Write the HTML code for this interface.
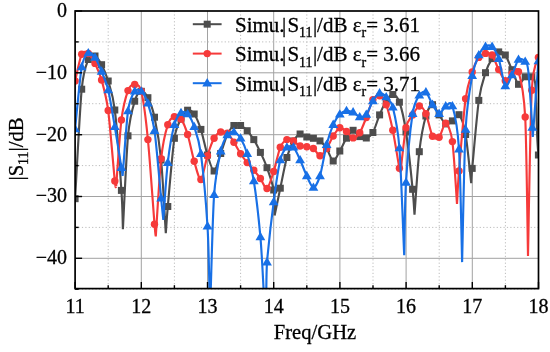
<!DOCTYPE html>
<html><head><meta charset="utf-8"><title>S11 plot</title>
<style>
html,body{margin:0;padding:0;background:#fff;}
body{width:550px;height:352px;overflow:hidden;}
svg{display:block;font-family:"Liberation Serif",serif;}
text{stroke:#000;stroke-width:0.3px;}
</style></head><body>
<svg width="550" height="352" viewBox="0 0 550 352">
<rect width="550" height="352" fill="#fff"/>
<defs><clipPath id="c"><rect x="75.1" y="11.0" width="463.4" height="277.6"/></clipPath></defs>
<line x1="141.3" y1="11.0" x2="141.3" y2="288.6" stroke="#a2a2a2" stroke-width="1"/><line x1="207.5" y1="11.0" x2="207.5" y2="288.6" stroke="#a2a2a2" stroke-width="1"/><line x1="273.7" y1="11.0" x2="273.7" y2="288.6" stroke="#a2a2a2" stroke-width="1"/><line x1="339.9" y1="11.0" x2="339.9" y2="288.6" stroke="#a2a2a2" stroke-width="1"/><line x1="406.1" y1="11.0" x2="406.1" y2="288.6" stroke="#a2a2a2" stroke-width="1"/><line x1="472.3" y1="11.0" x2="472.3" y2="288.6" stroke="#a2a2a2" stroke-width="1"/><line x1="108.2" y1="11.0" x2="108.2" y2="288.6" stroke="#bcbcbc" stroke-width="1" stroke-dasharray="1.2,2.2"/><line x1="174.4" y1="11.0" x2="174.4" y2="288.6" stroke="#bcbcbc" stroke-width="1" stroke-dasharray="1.2,2.2"/><line x1="240.6" y1="11.0" x2="240.6" y2="288.6" stroke="#bcbcbc" stroke-width="1" stroke-dasharray="1.2,2.2"/><line x1="306.8" y1="11.0" x2="306.8" y2="288.6" stroke="#bcbcbc" stroke-width="1" stroke-dasharray="1.2,2.2"/><line x1="373" y1="11.0" x2="373" y2="288.6" stroke="#bcbcbc" stroke-width="1" stroke-dasharray="1.2,2.2"/><line x1="439.2" y1="11.0" x2="439.2" y2="288.6" stroke="#bcbcbc" stroke-width="1" stroke-dasharray="1.2,2.2"/><line x1="505.4" y1="11.0" x2="505.4" y2="288.6" stroke="#bcbcbc" stroke-width="1" stroke-dasharray="1.2,2.2"/><line x1="75.1" y1="72.8" x2="538.5" y2="72.8" stroke="#a2a2a2" stroke-width="1"/><line x1="75.1" y1="134.7" x2="538.5" y2="134.7" stroke="#a2a2a2" stroke-width="1"/><line x1="75.1" y1="196.5" x2="538.5" y2="196.5" stroke="#a2a2a2" stroke-width="1"/><line x1="75.1" y1="258.3" x2="538.5" y2="258.3" stroke="#a2a2a2" stroke-width="1"/><line x1="75.1" y1="41.9" x2="538.5" y2="41.9" stroke="#bcbcbc" stroke-width="1" stroke-dasharray="1.2,2.2"/><line x1="75.1" y1="103.7" x2="538.5" y2="103.7" stroke="#bcbcbc" stroke-width="1" stroke-dasharray="1.2,2.2"/><line x1="75.1" y1="165.6" x2="538.5" y2="165.6" stroke="#bcbcbc" stroke-width="1" stroke-dasharray="1.2,2.2"/><line x1="75.1" y1="227.4" x2="538.5" y2="227.4" stroke="#bcbcbc" stroke-width="1" stroke-dasharray="1.2,2.2"/><line x1="75.1" y1="289.2" x2="538.5" y2="289.2" stroke="#bcbcbc" stroke-width="1" stroke-dasharray="1.2,2.2"/>
<g clip-path="url(#c)">
<path fill="none" stroke="#4d4d4d" stroke-width="2.15" stroke-linejoin="round" d="M75.1 198.7C76 183.4 79.9 108.7 81.7 89.2C83.6 69.7 86.5 64.1 88.3 59.5C90.2 54.9 93.1 55.3 95 56C96.8 56.7 99.7 61.2 101.6 64.7C103.4 68.2 106.3 74.7 108.2 81C110 87.3 113 94.7 114.8 110C116.7 125.3 120.3 173.7 121.4 190.4C122.6 207.1 122.7 223.9 122.9 229.3M122.9 229.3C123.6 216.2 126.4 153.7 128 135.8C129.7 117.9 132.8 107.4 134.7 101.2C136.5 95 139.4 91.8 141.3 91.3C143.1 90.8 146.1 94.1 147.9 97.7C149.8 101.3 152.7 108.5 154.5 117.2C156.4 125.9 159.6 143.8 161.1 160C162.7 176.2 165.1 222.9 165.8 233.1M165.8 233.1C166.1 229.4 166.6 219.8 167.8 206.5C169 193.2 172.5 150.6 174.4 138.3C176.2 126.1 179.1 122.9 181 119C182.9 115.1 185.8 110.9 187.6 110.2C189.5 109.5 192.4 111.3 194.2 114C196.1 116.7 199 123.7 200.9 129.4C202.7 135.1 205.6 149.2 207.5 155C209.3 160.8 212.2 171.2 214.1 171C215.9 170.8 218.9 158.6 220.7 153.5C222.6 148.4 225.5 138.4 227.3 134.5C229.2 130.6 232.1 126.8 233.9 125.5C235.8 124.2 238.7 124.8 240.6 125.5C242.4 126.2 245.3 128.7 247.2 130.7C249 132.7 251.9 136.6 253.8 139.6C255.7 142.6 258.6 148.5 260.4 152.4C262.3 156.3 265.2 162.4 267 167.7C268.9 173 272.6 183.3 273.7 190C274.6 196.7 274.5 211.9 274.6 215.5M274.6 215.5C275.4 211.7 278.6 196.3 280.3 188.2C282 180.1 285 164.1 286.9 157.5C288.7 150.9 291.7 144.3 293.5 141C295.4 137.7 298.3 134.6 300.1 134C302 133.4 304.9 136.4 306.8 137C308.6 137.6 311.5 137.8 313.4 138.3C315.2 138.8 318.1 139.5 320 140.9C321.8 142.3 324.8 145.7 326.6 148.5C328.5 151.3 331.4 160.7 333.2 161C335.1 161.3 338 154.2 339.8 151C341.7 147.8 344.6 141.1 346.5 138.2C348.3 135.3 351.2 130.5 353.1 130.3C354.9 130.1 357.8 135.5 359.7 136.6C361.6 137.7 364.5 138.6 366.3 138C368.2 137.4 371.1 135.7 372.9 132.5C374.8 129.3 377.7 119.3 379.6 114.9C381.4 110.5 384.3 103.9 386.2 101C388 98.1 390.9 94.3 392.8 94.5C394.6 94.7 397.6 97 399.4 102.2C401.3 107.5 404.2 119.8 406 132C407.9 144.2 411.5 177.7 412.6 189.3C413.8 200.9 414.2 211.1 414.5 214.6M414.5 214.6C415.2 205.8 417.7 165.5 419.3 151.7C420.9 137.9 424 122.6 425.9 116C427.7 109.4 430.7 104.9 432.5 104.7C434.4 104.5 437.3 112.2 439.1 114.9C441 117.6 443.9 123.1 445.7 123.9C447.6 124.7 450.5 122.2 452.4 120.9C454.2 119.6 457.1 112.8 459 114.7C460.8 116.6 463.9 124.9 465.6 134.5C467.3 144.1 470.4 176.4 471.2 183.2M471.2 183.2C471.3 181.1 471.2 180 472.2 168.4C473.3 156.8 477 113.8 478.8 100.4C480.7 87 483.6 78.6 485.5 72.7C487.3 66.8 490.2 61.5 492.1 58.6C493.9 55.7 496.8 52.4 498.7 51.9C500.5 51.4 503.5 52.5 505.3 55C507.2 57.5 510.1 65.6 511.9 69.7C513.8 73.8 516.7 83.3 518.5 84.3C520.4 85.3 523.3 77.8 525.2 76.8C527 75.8 530.4 75.9 531.8 76.8C533.2 77.7 534.6 78.6 535.2 83C535.8 87.4 536 100.4 536.3 108C536.6 115.6 536.9 130.4 537.2 137C537.5 143.6 538.2 152.5 538.4 155"/>
<rect x="71.6" y="195.2" width="7" height="7" fill="#4d4d4d"/><rect x="78.2" y="85.7" width="7" height="7" fill="#4d4d4d"/><rect x="84.8" y="56" width="7" height="7" fill="#4d4d4d"/><rect x="91.5" y="52.5" width="7" height="7" fill="#4d4d4d"/><rect x="98.1" y="61.2" width="7" height="7" fill="#4d4d4d"/><rect x="104.7" y="77.5" width="7" height="7" fill="#4d4d4d"/><rect x="111.3" y="106.5" width="7" height="7" fill="#4d4d4d"/><rect x="117.9" y="186.9" width="7" height="7" fill="#4d4d4d"/><rect x="124.5" y="132.3" width="7" height="7" fill="#4d4d4d"/><rect x="131.2" y="97.7" width="7" height="7" fill="#4d4d4d"/><rect x="137.8" y="87.8" width="7" height="7" fill="#4d4d4d"/><rect x="144.4" y="94.2" width="7" height="7" fill="#4d4d4d"/><rect x="151" y="113.7" width="7" height="7" fill="#4d4d4d"/><rect x="157.6" y="156.5" width="7" height="7" fill="#4d4d4d"/><rect x="164.3" y="203" width="7" height="7" fill="#4d4d4d"/><rect x="170.9" y="134.8" width="7" height="7" fill="#4d4d4d"/><rect x="177.5" y="115.5" width="7" height="7" fill="#4d4d4d"/><rect x="184.1" y="106.7" width="7" height="7" fill="#4d4d4d"/><rect x="190.7" y="110.5" width="7" height="7" fill="#4d4d4d"/><rect x="197.4" y="125.9" width="7" height="7" fill="#4d4d4d"/><rect x="204" y="151.5" width="7" height="7" fill="#4d4d4d"/><rect x="210.6" y="167.5" width="7" height="7" fill="#4d4d4d"/><rect x="217.2" y="150" width="7" height="7" fill="#4d4d4d"/><rect x="223.8" y="131" width="7" height="7" fill="#4d4d4d"/><rect x="230.4" y="122" width="7" height="7" fill="#4d4d4d"/><rect x="237.1" y="122" width="7" height="7" fill="#4d4d4d"/><rect x="243.7" y="127.2" width="7" height="7" fill="#4d4d4d"/><rect x="250.3" y="136.1" width="7" height="7" fill="#4d4d4d"/><rect x="256.9" y="148.9" width="7" height="7" fill="#4d4d4d"/><rect x="263.5" y="164.2" width="7" height="7" fill="#4d4d4d"/><rect x="270.2" y="186.5" width="7" height="7" fill="#4d4d4d"/><rect x="276.8" y="184.7" width="7" height="7" fill="#4d4d4d"/><rect x="283.4" y="154" width="7" height="7" fill="#4d4d4d"/><rect x="290" y="137.5" width="7" height="7" fill="#4d4d4d"/><rect x="296.6" y="130.5" width="7" height="7" fill="#4d4d4d"/><rect x="303.3" y="133.5" width="7" height="7" fill="#4d4d4d"/><rect x="309.9" y="134.8" width="7" height="7" fill="#4d4d4d"/><rect x="316.5" y="137.4" width="7" height="7" fill="#4d4d4d"/><rect x="323.1" y="145" width="7" height="7" fill="#4d4d4d"/><rect x="329.7" y="157.5" width="7" height="7" fill="#4d4d4d"/><rect x="336.3" y="147.5" width="7" height="7" fill="#4d4d4d"/><rect x="343" y="134.7" width="7" height="7" fill="#4d4d4d"/><rect x="349.6" y="126.8" width="7" height="7" fill="#4d4d4d"/><rect x="356.2" y="133.1" width="7" height="7" fill="#4d4d4d"/><rect x="362.8" y="134.5" width="7" height="7" fill="#4d4d4d"/><rect x="369.4" y="129" width="7" height="7" fill="#4d4d4d"/><rect x="376.1" y="111.4" width="7" height="7" fill="#4d4d4d"/><rect x="382.7" y="97.5" width="7" height="7" fill="#4d4d4d"/><rect x="389.3" y="91" width="7" height="7" fill="#4d4d4d"/><rect x="395.9" y="98.7" width="7" height="7" fill="#4d4d4d"/><rect x="402.5" y="128.5" width="7" height="7" fill="#4d4d4d"/><rect x="409.1" y="185.8" width="7" height="7" fill="#4d4d4d"/><rect x="415.8" y="148.2" width="7" height="7" fill="#4d4d4d"/><rect x="422.4" y="112.5" width="7" height="7" fill="#4d4d4d"/><rect x="429" y="101.2" width="7" height="7" fill="#4d4d4d"/><rect x="435.6" y="111.4" width="7" height="7" fill="#4d4d4d"/><rect x="442.2" y="120.4" width="7" height="7" fill="#4d4d4d"/><rect x="448.9" y="117.4" width="7" height="7" fill="#4d4d4d"/><rect x="455.5" y="111.2" width="7" height="7" fill="#4d4d4d"/><rect x="462.1" y="131" width="7" height="7" fill="#4d4d4d"/><rect x="468.7" y="164.9" width="7" height="7" fill="#4d4d4d"/><rect x="475.3" y="96.9" width="7" height="7" fill="#4d4d4d"/><rect x="482" y="69.2" width="7" height="7" fill="#4d4d4d"/><rect x="488.6" y="55.1" width="7" height="7" fill="#4d4d4d"/><rect x="495.2" y="48.4" width="7" height="7" fill="#4d4d4d"/><rect x="501.8" y="51.5" width="7" height="7" fill="#4d4d4d"/><rect x="508.4" y="66.2" width="7" height="7" fill="#4d4d4d"/><rect x="515" y="80.8" width="7" height="7" fill="#4d4d4d"/><rect x="521.7" y="73.3" width="7" height="7" fill="#4d4d4d"/><rect x="528.3" y="73.3" width="7" height="7" fill="#4d4d4d"/><rect x="534.9" y="151.5" width="7" height="7" fill="#4d4d4d"/><path fill="none" stroke="#F63A3A" stroke-width="2.15" stroke-linejoin="round" d="M75.1 81C76 77.2 79.9 58.1 81.7 54.2C83.6 50.4 86.5 52.2 88.3 53.5C90.2 54.8 93.1 59.7 95 63.4C96.8 67.1 99.7 73.4 101.6 80C103.4 86.6 106.3 96.4 108.2 110.5C110 124.6 113.7 170.4 114.8 181C115.9 191.6 116 185.3 116.2 186M116.2 186C116.9 176.8 119.8 133.4 121.4 120C123.1 106.6 126.2 95.6 128 90.6C129.9 85.6 132.8 84.3 134.7 84.4C136.5 84.5 139.4 83.6 141.3 91.3C143.1 99 146.1 121 147.9 139.6C149.8 158.2 153.4 210.6 154.5 224.2C155.6 237.8 155.6 234.7 155.8 236.4M155.8 236.4C156.5 225.5 159.5 174.4 161.1 158.8C162.8 143.2 165.9 130.7 167.8 124.8C169.6 118.9 172.5 117.4 174.4 116.6C176.2 115.8 179.1 116.5 181 119C182.9 121.5 185.8 128.6 187.6 134.5C189.5 140.4 192.4 155 194.2 161.3C196.1 167.6 199 180.3 200.9 179.5C202.7 178.7 205.6 161.5 207.5 155.7C209.3 149.9 212.2 141.6 214.1 138.3C215.9 135 218.9 132.7 220.7 132C222.6 131.3 225.5 131.8 227.3 133.2C229.2 134.6 232.1 139.3 233.9 142.2C235.8 145.1 238.7 150.8 240.6 153.7C242.4 156.6 245.3 160.3 247.2 162.6C249 164.9 251.9 168.1 253.8 170.3C255.7 172.5 258.6 176 260.4 178.5C262.3 181 265.2 189.5 267 188.5C268.9 187.5 271.8 177.3 273.7 171.5C275.5 165.7 278.4 151.8 280.3 147.3C282.1 142.8 285 140.5 286.9 139.6C288.7 138.7 291.7 140 293.5 140.9C295.4 141.8 298.3 145.2 300.1 146C302 146.8 304.9 146.5 306.8 146.8C308.6 147.2 311.5 147.3 313.4 148.5C315.2 149.7 318.1 155.7 320 155.7C321.8 155.7 324.8 151.3 326.6 148.5C328.5 145.7 331.4 138.9 333.2 136C335.1 133.1 338 128.3 339.8 127.7C341.7 127.1 344.6 130.1 346.5 131.5C348.3 132.9 351.2 137.7 353.1 137.9C354.9 138.1 357.8 135.7 359.7 132.8C361.6 129.9 364.5 122.1 366.3 117.5C368.2 112.9 371.1 102.6 372.9 99.6C374.8 96.6 377.7 95.1 379.6 95.8C381.4 96.5 384.3 99.9 386.2 104.7C388 109.5 390.9 121.4 392.8 130.3C394.6 139.2 398.3 162.5 399.4 168.3C400.5 174.1 400.3 171.5 400.5 172M400.5 172C401.3 165.8 404.3 135.7 406 127.7C407.7 119.7 410.8 118 412.6 115C414.5 112 417.4 106.2 419.3 106C421.1 105.8 424 109.5 425.9 113.7C427.7 117.9 430.7 132.9 432.5 136.2C434.4 139.5 437.3 139.1 439.1 137.3C441 135.5 443.9 122.7 445.7 123.3C447.6 123.9 450.8 130.3 452.4 141.6C453.9 152.9 456.4 195.3 457 204M457 204C457.3 199.4 457.8 185.6 459 170.9C460.2 156.2 463.7 112.6 465.6 98.8C467.5 85 470.4 77.8 472.2 72C474.1 66.2 477 60 478.8 57.4C480.7 54.8 483.6 53.7 485.5 53.4C487.3 53.1 490.2 52.7 492.1 55C493.9 57.3 496.8 66 498.7 69.6C500.5 73.2 503.5 80.2 505.3 80.8C507.2 81.4 510.1 75 511.9 73.7C513.8 72.4 516.7 65.6 518.5 71.7C520.4 77.8 523.8 91.2 525.2 117C526.5 142.8 527.6 236.5 528 255.9M528 255.9C528.5 232.7 530.3 118.1 531.8 90.3C533.2 62.5 537.5 62 538.4 57.4"/>
<circle cx="75.1" cy="81" r="3.7" fill="#F63A3A"/><circle cx="81.7" cy="54.2" r="3.7" fill="#F63A3A"/><circle cx="88.3" cy="53.5" r="3.7" fill="#F63A3A"/><circle cx="95" cy="63.4" r="3.7" fill="#F63A3A"/><circle cx="101.6" cy="80" r="3.7" fill="#F63A3A"/><circle cx="108.2" cy="110.5" r="3.7" fill="#F63A3A"/><circle cx="114.8" cy="181" r="3.7" fill="#F63A3A"/><circle cx="121.4" cy="120" r="3.7" fill="#F63A3A"/><circle cx="128" cy="90.6" r="3.7" fill="#F63A3A"/><circle cx="134.7" cy="84.4" r="3.7" fill="#F63A3A"/><circle cx="141.3" cy="91.3" r="3.7" fill="#F63A3A"/><circle cx="147.9" cy="139.6" r="3.7" fill="#F63A3A"/><circle cx="154.5" cy="224.2" r="3.7" fill="#F63A3A"/><circle cx="161.1" cy="158.8" r="3.7" fill="#F63A3A"/><circle cx="167.8" cy="124.8" r="3.7" fill="#F63A3A"/><circle cx="174.4" cy="116.6" r="3.7" fill="#F63A3A"/><circle cx="181" cy="119" r="3.7" fill="#F63A3A"/><circle cx="187.6" cy="134.5" r="3.7" fill="#F63A3A"/><circle cx="194.2" cy="161.3" r="3.7" fill="#F63A3A"/><circle cx="200.9" cy="179.5" r="3.7" fill="#F63A3A"/><circle cx="207.5" cy="155.7" r="3.7" fill="#F63A3A"/><circle cx="214.1" cy="138.3" r="3.7" fill="#F63A3A"/><circle cx="220.7" cy="132" r="3.7" fill="#F63A3A"/><circle cx="227.3" cy="133.2" r="3.7" fill="#F63A3A"/><circle cx="233.9" cy="142.2" r="3.7" fill="#F63A3A"/><circle cx="240.6" cy="153.7" r="3.7" fill="#F63A3A"/><circle cx="247.2" cy="162.6" r="3.7" fill="#F63A3A"/><circle cx="253.8" cy="170.3" r="3.7" fill="#F63A3A"/><circle cx="260.4" cy="178.5" r="3.7" fill="#F63A3A"/><circle cx="267" cy="188.5" r="3.7" fill="#F63A3A"/><circle cx="273.7" cy="171.5" r="3.7" fill="#F63A3A"/><circle cx="280.3" cy="147.3" r="3.7" fill="#F63A3A"/><circle cx="286.9" cy="139.6" r="3.7" fill="#F63A3A"/><circle cx="293.5" cy="140.9" r="3.7" fill="#F63A3A"/><circle cx="300.1" cy="146" r="3.7" fill="#F63A3A"/><circle cx="306.8" cy="146.8" r="3.7" fill="#F63A3A"/><circle cx="313.4" cy="148.5" r="3.7" fill="#F63A3A"/><circle cx="320" cy="155.7" r="3.7" fill="#F63A3A"/><circle cx="326.6" cy="148.5" r="3.7" fill="#F63A3A"/><circle cx="333.2" cy="136" r="3.7" fill="#F63A3A"/><circle cx="339.8" cy="127.7" r="3.7" fill="#F63A3A"/><circle cx="346.5" cy="131.5" r="3.7" fill="#F63A3A"/><circle cx="353.1" cy="137.9" r="3.7" fill="#F63A3A"/><circle cx="359.7" cy="132.8" r="3.7" fill="#F63A3A"/><circle cx="366.3" cy="117.5" r="3.7" fill="#F63A3A"/><circle cx="372.9" cy="99.6" r="3.7" fill="#F63A3A"/><circle cx="379.6" cy="95.8" r="3.7" fill="#F63A3A"/><circle cx="386.2" cy="104.7" r="3.7" fill="#F63A3A"/><circle cx="392.8" cy="130.3" r="3.7" fill="#F63A3A"/><circle cx="399.4" cy="168.3" r="3.7" fill="#F63A3A"/><circle cx="406" cy="127.7" r="3.7" fill="#F63A3A"/><circle cx="412.6" cy="115" r="3.7" fill="#F63A3A"/><circle cx="419.3" cy="106" r="3.7" fill="#F63A3A"/><circle cx="425.9" cy="113.7" r="3.7" fill="#F63A3A"/><circle cx="432.5" cy="136.2" r="3.7" fill="#F63A3A"/><circle cx="439.1" cy="137.3" r="3.7" fill="#F63A3A"/><circle cx="445.7" cy="123.3" r="3.7" fill="#F63A3A"/><circle cx="452.4" cy="141.6" r="3.7" fill="#F63A3A"/><circle cx="459" cy="170.9" r="3.7" fill="#F63A3A"/><circle cx="465.6" cy="98.8" r="3.7" fill="#F63A3A"/><circle cx="472.2" cy="72" r="3.7" fill="#F63A3A"/><circle cx="478.8" cy="57.4" r="3.7" fill="#F63A3A"/><circle cx="485.5" cy="53.4" r="3.7" fill="#F63A3A"/><circle cx="492.1" cy="55" r="3.7" fill="#F63A3A"/><circle cx="498.7" cy="69.6" r="3.7" fill="#F63A3A"/><circle cx="505.3" cy="80.8" r="3.7" fill="#F63A3A"/><circle cx="511.9" cy="73.7" r="3.7" fill="#F63A3A"/><circle cx="518.5" cy="71.7" r="3.7" fill="#F63A3A"/><circle cx="525.2" cy="117" r="3.7" fill="#F63A3A"/><circle cx="531.8" cy="90.3" r="3.7" fill="#F63A3A"/><circle cx="538.4" cy="57.4" r="3.7" fill="#F63A3A"/><path fill="none" stroke="#1870E6" stroke-width="2.15" stroke-linejoin="round" d="M75.1 129C76 120.3 79.9 77.6 81.7 67C83.6 56.4 86.5 54.3 88.3 53C90.2 51.7 93.1 54.9 95 57.5C96.8 60.1 99.7 66.9 101.6 71.4C103.4 76 106.3 82.2 108.2 90C110 97.8 113 115.9 114.8 126.8C116.7 137.7 120.3 160.8 121.4 167.7C122.5 174.6 122.4 174.8 122.6 176M122.6 176C123.4 166.9 126.4 122.9 128 111C129.7 99.1 132.8 94.1 134.7 91.3C136.5 88.5 139.4 89.6 141.3 91.3C143.1 93 146.1 97.8 147.9 103.3C149.8 108.8 152.7 117.4 154.5 130.7C156.4 144 159.9 185.6 161.1 198.1C162.4 210.6 163 216.8 163.3 219.8M163.3 219.8C163.9 211.8 166.2 175.9 167.8 162.6C169.3 149.3 172.5 131.8 174.4 124.8C176.2 117.8 179.1 114.3 181 112.8C182.9 111.3 185.8 112 187.6 114C189.5 116 192.4 121.3 194.2 126.8C196.1 132.3 199 139.7 200.9 153.6C202.7 167.5 206.3 207 207.5 226.2C208.7 245.4 209.2 281.9 209.5 291M209.5 291C209.7 291 210.5 291 210.7 291M210.7 291C211.2 277.5 212.7 214.4 214.1 194.8C215.5 175.2 218.9 159.5 220.7 151.1C222.6 142.7 225.5 137.7 227.3 135C229.2 132.3 232.1 131.5 233.9 132C235.8 132.5 238.7 135.3 240.6 138.3C242.4 141.3 245.3 147.7 247.2 153.7C249 159.7 251.9 169.4 253.8 181C255.7 192.6 259 221.5 260.4 236.9C261.8 252.3 263.2 283.4 263.7 291M263.7 291C264.1 291 265.9 291 266.3 291M266.3 291C266.4 287 266.3 274.7 267 262.2C268.1 249.7 271.8 216.2 273.7 201.9C275.5 187.6 278.4 167.6 280.3 160C282.1 152.4 285 149.1 286.9 147.3C288.7 145.5 291.7 145.5 293.5 147.3C295.4 149.1 298.3 156 300.1 160C302 164 304.9 172.1 306.8 175.9C308.6 179.8 311.5 187.5 313.4 187.5C315.2 187.5 318.1 181.9 320 175.9C321.8 169.9 324.8 151.9 326.6 144.7C328.5 137.5 331.4 129 333.2 124.7C335.1 120.4 338 116.2 339.8 114.3C341.7 112.4 344.6 111.1 346.5 110.8C348.3 110.5 351.2 111.3 353.1 112.2C354.9 113.1 357.8 116.7 359.7 117C361.6 117.3 364.5 116.8 366.3 114.5C368.2 112.2 371.1 103.9 372.9 100.9C374.8 97.9 377.7 93.7 379.6 93.2C381.4 92.7 384.3 95 386.2 97C388 99 390.9 100.2 392.8 107.3C394.6 114.4 397.8 127.3 399.4 148C401 168.7 403.5 240.3 404.2 255.3M404.2 255.3C404.5 245.1 404.8 202.2 406 182.4C407.2 162.6 410.8 125.9 412.6 113.7C414.5 101.5 417.4 98.3 419.3 95.3C421.1 92.3 424 90.9 425.9 92.2C427.7 93.5 430.7 101.5 432.5 104.5C434.4 107.5 437.3 113.5 439.1 113.7C441 113.9 443.9 107.3 445.7 106.2C447.6 105.1 450.5 100 452.4 106C454.2 112 457.6 127.3 459 149.2C460.3 171.1 461.7 246.3 462.1 262.1M462.1 262.1C462.6 243.5 464.2 155.6 465.6 129.5C467 103.4 470.4 86.1 472.2 75.7C474.1 65.3 477 59.1 478.8 55C480.7 50.9 483.6 47.9 485.5 46.7C487.3 45.5 490.2 45 492.1 46.7C493.9 48.4 496.8 53.1 498.7 58.6C500.5 64.1 503.5 83.7 505.3 86C507.2 88.3 510.1 78.7 511.9 75C513.8 71.3 516.7 61.4 518.5 59.5C520.4 57.6 523.8 59.9 525.2 61.5C526.5 63.1 527.3 61.8 528.3 71C529.3 80.2 531.7 118.3 532.3 127.5C532.8 136.7 532.7 135.7 532.8 137M532.8 137C533.6 126.4 537.6 71.6 538.4 61"/>
<path d="M75.1 123.9L80 132.3L70.2 132.3Z" fill="#1870E6"/><path d="M81.7 61.9L86.6 70.3L76.8 70.3Z" fill="#1870E6"/><path d="M88.3 47.9L93.2 56.3L83.4 56.3Z" fill="#1870E6"/><path d="M95 52.4L99.9 60.8L90.1 60.8Z" fill="#1870E6"/><path d="M101.6 66.3L106.5 74.7L96.7 74.7Z" fill="#1870E6"/><path d="M108.2 84.9L113.1 93.3L103.3 93.3Z" fill="#1870E6"/><path d="M114.8 121.7L119.7 130.1L109.9 130.1Z" fill="#1870E6"/><path d="M121.4 162.6L126.3 171L116.5 171Z" fill="#1870E6"/><path d="M128 105.9L132.9 114.3L123.1 114.3Z" fill="#1870E6"/><path d="M134.7 86.2L139.6 94.6L129.8 94.6Z" fill="#1870E6"/><path d="M141.3 86.2L146.2 94.6L136.4 94.6Z" fill="#1870E6"/><path d="M147.9 98.2L152.8 106.6L143 106.6Z" fill="#1870E6"/><path d="M154.5 125.6L159.4 134L149.6 134Z" fill="#1870E6"/><path d="M161.1 193L166 201.4L156.2 201.4Z" fill="#1870E6"/><path d="M167.8 157.5L172.7 165.9L162.9 165.9Z" fill="#1870E6"/><path d="M174.4 119.7L179.3 128.1L169.5 128.1Z" fill="#1870E6"/><path d="M181 107.7L185.9 116.1L176.1 116.1Z" fill="#1870E6"/><path d="M187.6 108.9L192.5 117.3L182.7 117.3Z" fill="#1870E6"/><path d="M194.2 121.7L199.1 130.1L189.3 130.1Z" fill="#1870E6"/><path d="M200.9 148.5L205.8 156.9L196 156.9Z" fill="#1870E6"/><path d="M207.5 221.1L212.4 229.5L202.6 229.5Z" fill="#1870E6"/><path d="M214.1 189.7L219 198.1L209.2 198.1Z" fill="#1870E6"/><path d="M220.7 146L225.6 154.4L215.8 154.4Z" fill="#1870E6"/><path d="M227.3 129.9L232.2 138.3L222.4 138.3Z" fill="#1870E6"/><path d="M233.9 126.9L238.8 135.3L229 135.3Z" fill="#1870E6"/><path d="M240.6 133.2L245.5 141.6L235.7 141.6Z" fill="#1870E6"/><path d="M247.2 148.6L252.1 157L242.3 157Z" fill="#1870E6"/><path d="M253.8 175.9L258.7 184.3L248.9 184.3Z" fill="#1870E6"/><path d="M260.4 231.8L265.3 240.2L255.5 240.2Z" fill="#1870E6"/><path d="M267 257.1L271.9 265.5L262.1 265.5Z" fill="#1870E6"/><path d="M273.7 196.8L278.6 205.2L268.8 205.2Z" fill="#1870E6"/><path d="M280.3 154.9L285.2 163.3L275.4 163.3Z" fill="#1870E6"/><path d="M286.9 142.2L291.8 150.6L282 150.6Z" fill="#1870E6"/><path d="M293.5 142.2L298.4 150.6L288.6 150.6Z" fill="#1870E6"/><path d="M300.1 154.9L305 163.3L295.2 163.3Z" fill="#1870E6"/><path d="M306.8 170.8L311.7 179.2L301.9 179.2Z" fill="#1870E6"/><path d="M313.4 182.4L318.3 190.8L308.5 190.8Z" fill="#1870E6"/><path d="M320 170.8L324.9 179.2L315.1 179.2Z" fill="#1870E6"/><path d="M326.6 139.6L331.5 148L321.7 148Z" fill="#1870E6"/><path d="M333.2 119.6L338.1 128L328.3 128Z" fill="#1870E6"/><path d="M339.8 109.2L344.7 117.6L334.9 117.6Z" fill="#1870E6"/><path d="M346.5 105.7L351.4 114.1L341.6 114.1Z" fill="#1870E6"/><path d="M353.1 107.1L358 115.5L348.2 115.5Z" fill="#1870E6"/><path d="M359.7 111.9L364.6 120.3L354.8 120.3Z" fill="#1870E6"/><path d="M366.3 109.4L371.2 117.8L361.4 117.8Z" fill="#1870E6"/><path d="M372.9 95.8L377.8 104.2L368 104.2Z" fill="#1870E6"/><path d="M379.6 88.1L384.5 96.5L374.7 96.5Z" fill="#1870E6"/><path d="M386.2 91.9L391.1 100.3L381.3 100.3Z" fill="#1870E6"/><path d="M392.8 102.2L397.7 110.6L387.9 110.6Z" fill="#1870E6"/><path d="M399.4 142.9L404.3 151.3L394.5 151.3Z" fill="#1870E6"/><path d="M406 177.3L410.9 185.7L401.1 185.7Z" fill="#1870E6"/><path d="M412.6 108.6L417.5 117L407.7 117Z" fill="#1870E6"/><path d="M419.3 90.2L424.2 98.6L414.4 98.6Z" fill="#1870E6"/><path d="M425.9 87.1L430.8 95.5L421 95.5Z" fill="#1870E6"/><path d="M432.5 99.4L437.4 107.8L427.6 107.8Z" fill="#1870E6"/><path d="M439.1 108.6L444 117L434.2 117Z" fill="#1870E6"/><path d="M445.7 101.1L450.6 109.5L440.8 109.5Z" fill="#1870E6"/><path d="M452.4 100.9L457.3 109.3L447.5 109.3Z" fill="#1870E6"/><path d="M459 144.1L463.9 152.5L454.1 152.5Z" fill="#1870E6"/><path d="M465.6 124.4L470.5 132.8L460.7 132.8Z" fill="#1870E6"/><path d="M472.2 70.6L477.1 79L467.3 79Z" fill="#1870E6"/><path d="M478.8 49.9L483.7 58.3L473.9 58.3Z" fill="#1870E6"/><path d="M485.5 41.6L490.4 50L480.6 50Z" fill="#1870E6"/><path d="M492.1 41.6L497 50L487.2 50Z" fill="#1870E6"/><path d="M498.7 53.5L503.6 61.9L493.8 61.9Z" fill="#1870E6"/><path d="M505.3 80.9L510.2 89.3L500.4 89.3Z" fill="#1870E6"/><path d="M511.9 69.9L516.8 78.3L507 78.3Z" fill="#1870E6"/><path d="M518.5 54.4L523.4 62.8L513.6 62.8Z" fill="#1870E6"/><path d="M525.2 56.4L530.1 64.8L520.3 64.8Z" fill="#1870E6"/><path d="M532.3 122.4L537.2 130.8L527.4 130.8Z" fill="#1870E6"/><path d="M538.4 55.9L543.3 64.3L533.5 64.3Z" fill="#1870E6"/></g>
<line x1="75.1" y1="288.6" x2="75.1" y2="282.0" stroke="#000" stroke-width="1.4"/><line x1="108.2" y1="288.6" x2="108.2" y2="285.20000000000005" stroke="#000" stroke-width="1.4"/><line x1="141.3" y1="288.6" x2="141.3" y2="282.0" stroke="#000" stroke-width="1.4"/><line x1="174.4" y1="288.6" x2="174.4" y2="285.20000000000005" stroke="#000" stroke-width="1.4"/><line x1="207.5" y1="288.6" x2="207.5" y2="282.0" stroke="#000" stroke-width="1.4"/><line x1="240.6" y1="288.6" x2="240.6" y2="285.20000000000005" stroke="#000" stroke-width="1.4"/><line x1="273.7" y1="288.6" x2="273.7" y2="282.0" stroke="#000" stroke-width="1.4"/><line x1="306.8" y1="288.6" x2="306.8" y2="285.20000000000005" stroke="#000" stroke-width="1.4"/><line x1="339.9" y1="288.6" x2="339.9" y2="282.0" stroke="#000" stroke-width="1.4"/><line x1="373" y1="288.6" x2="373" y2="285.20000000000005" stroke="#000" stroke-width="1.4"/><line x1="406.1" y1="288.6" x2="406.1" y2="282.0" stroke="#000" stroke-width="1.4"/><line x1="439.2" y1="288.6" x2="439.2" y2="285.20000000000005" stroke="#000" stroke-width="1.4"/><line x1="472.3" y1="288.6" x2="472.3" y2="282.0" stroke="#000" stroke-width="1.4"/><line x1="505.4" y1="288.6" x2="505.4" y2="285.20000000000005" stroke="#000" stroke-width="1.4"/><line x1="538.5" y1="288.6" x2="538.5" y2="282.0" stroke="#000" stroke-width="1.4"/><line x1="75.1" y1="11" x2="82.1" y2="11" stroke="#000" stroke-width="1.4"/><line x1="75.1" y1="41.9" x2="78.69999999999999" y2="41.9" stroke="#000" stroke-width="1.4"/><line x1="75.1" y1="72.8" x2="82.1" y2="72.8" stroke="#000" stroke-width="1.4"/><line x1="75.1" y1="103.7" x2="78.69999999999999" y2="103.7" stroke="#000" stroke-width="1.4"/><line x1="75.1" y1="134.7" x2="82.1" y2="134.7" stroke="#000" stroke-width="1.4"/><line x1="75.1" y1="165.6" x2="78.69999999999999" y2="165.6" stroke="#000" stroke-width="1.4"/><line x1="75.1" y1="196.5" x2="82.1" y2="196.5" stroke="#000" stroke-width="1.4"/><line x1="75.1" y1="227.4" x2="78.69999999999999" y2="227.4" stroke="#000" stroke-width="1.4"/><line x1="75.1" y1="258.3" x2="82.1" y2="258.3" stroke="#000" stroke-width="1.4"/><line x1="75.1" y1="289.2" x2="78.69999999999999" y2="289.2" stroke="#000" stroke-width="1.4"/>
<rect x="75.1" y="11.0" width="463.4" height="277.6" fill="none" stroke="#000" stroke-width="1.7"/>
<g font-size="20" fill="#000"><text x="75.1" y="313.2" text-anchor="middle">11</text><text x="141.3" y="313.2" text-anchor="middle">12</text><text x="207.5" y="313.2" text-anchor="middle">13</text><text x="273.7" y="313.2" text-anchor="middle">14</text><text x="339.9" y="313.2" text-anchor="middle">15</text><text x="406.1" y="313.2" text-anchor="middle">16</text><text x="472.3" y="313.2" text-anchor="middle">17</text><text x="538.5" y="313.2" text-anchor="middle">18</text><text x="67" y="16.9" text-anchor="end">0</text><text x="67" y="78.7" text-anchor="end">−10</text><text x="67" y="140.6" text-anchor="end">−20</text><text x="67" y="202.4" text-anchor="end">−30</text><text x="67" y="264.2" text-anchor="end">−40</text><text x="315" y="338.6" font-size="20.6" text-anchor="middle">Freq/GHz</text><text transform="translate(22.7,149) rotate(-90)" font-size="20.6" text-anchor="middle">|S<tspan font-size="14" dy="5.5">11</tspan><tspan dy="-5.5">|/dB</tspan></text></g>
<g font-size="21" fill="#000"><line x1="192.8" y1="24.2" x2="221.6" y2="24.2" stroke="#4d4d4d" stroke-width="2"/><rect x="203.7" y="20.7" width="7" height="7" fill="#4d4d4d"/><text x="235" y="31.7">Simu.<tspan dx="-2.6">|</tspan><tspan dx="1.2">S</tspan><tspan font-size="14" dy="5.5">11</tspan><tspan dy="-5.5" dx="0.3">|/dB ε</tspan><tspan font-size="14" dy="5.5">r</tspan><tspan dy="-5.5">= 3.61</tspan></text><line x1="192.8" y1="53.6" x2="221.6" y2="53.6" stroke="#F63A3A" stroke-width="2"/><circle cx="207.2" cy="53.6" r="3.7" fill="#F63A3A"/><text x="235" y="61.1">Simu.<tspan dx="-2.6">|</tspan><tspan dx="1.2">S</tspan><tspan font-size="14" dy="5.5">11</tspan><tspan dy="-5.5" dx="0.3">|/dB ε</tspan><tspan font-size="14" dy="5.5">r</tspan><tspan dy="-5.5">= 3.66</tspan></text><line x1="192.8" y1="83.2" x2="221.6" y2="83.2" stroke="#1870E6" stroke-width="2"/><path d="M207.2 78.1L212.1 86.5L202.3 86.5Z" fill="#1870E6"/><text x="235" y="90.5">Simu.<tspan dx="-2.6">|</tspan><tspan dx="1.2">S</tspan><tspan font-size="14" dy="5.5">11</tspan><tspan dy="-5.5" dx="0.3">|/dB ε</tspan><tspan font-size="14" dy="5.5">r</tspan><tspan dy="-5.5">= 3.71</tspan></text></g>
</svg>
</body></html>
